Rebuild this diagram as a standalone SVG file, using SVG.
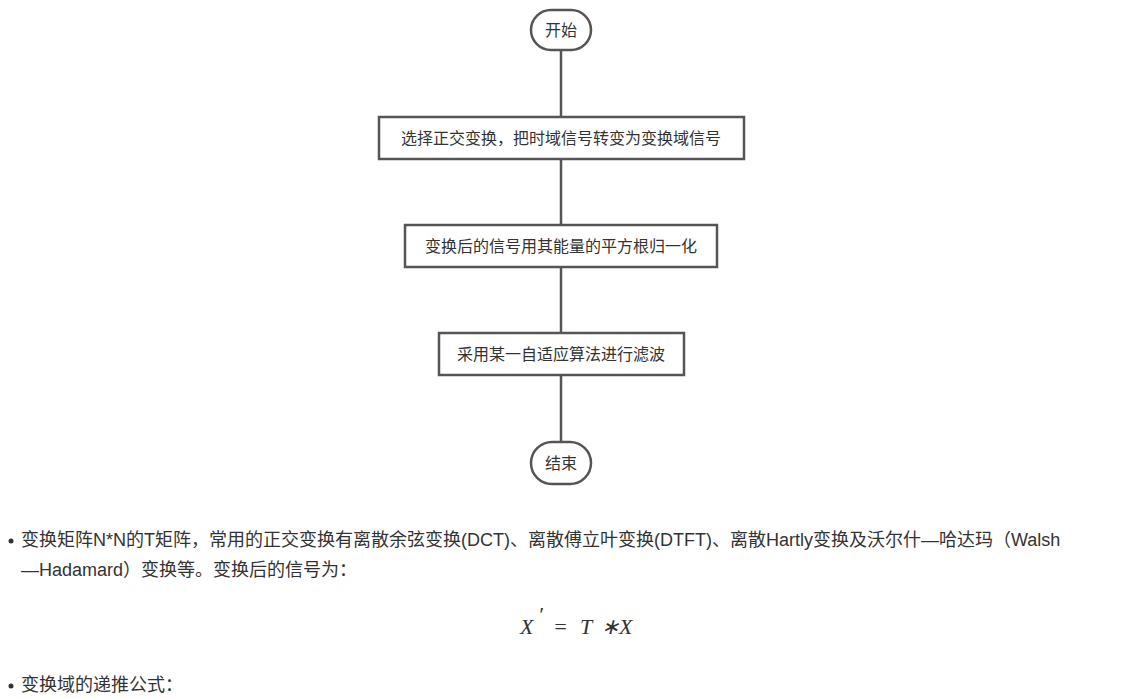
<svg xmlns="http://www.w3.org/2000/svg" width="1138" height="699" viewBox="0 0 1138 699">
<style>
.n{fill:#fff;stroke:#555;stroke-width:2.5}
.t{font-family:"Noto Sans CJK SC","Liberation Sans",sans-serif;font-size:16px;fill:#333;text-anchor:middle}
.p{font-family:"Liberation Sans","Noto Sans CJK SC",sans-serif;font-size:18px;fill:#333}
.m{font-family:"Liberation Serif",serif;font-size:22px;font-style:italic;fill:#333}
</style>
<rect width="1138" height="699" fill="#fff"/>
<g id="connectors" stroke="#555" stroke-width="2.5">
<line x1="561" y1="50" x2="561" y2="117"/>
<line x1="561" y1="159" x2="561" y2="225"/>
<line x1="561" y1="267" x2="561" y2="333"/>
<line x1="561" y1="375" x2="561" y2="442"/>
</g>
<g id="start"><rect class="n" x="531" y="10" width="60" height="40" rx="20"/><text class="t" x="561" y="36">开始</text></g>
<g id="step1"><rect class="n" x="379" y="117" width="365" height="42"/><text class="t" x="561" y="144">选择正交变换，把时域信号转变为变换域信号</text></g>
<g id="step2"><rect class="n" x="405" y="225" width="312" height="42"/><text class="t" x="561" y="252">变换后的信号用其能量的平方根归一化</text></g>
<g id="step3"><rect class="n" x="439" y="333" width="245" height="42"/><text class="t" x="561" y="360">采用某一自适应算法进行滤波</text></g>
<g id="end"><rect class="n" x="531" y="442" width="60" height="42" rx="21"/><text class="t" x="561" y="469">结束</text></g>
<circle cx="11" cy="541" r="2.5" fill="#333"/>
<text class="p" x="21" y="546">变换矩阵N*N的T矩阵，常用的正交变换有离散余弦变换(DCT)、离散傅立叶变换(DTFT)、离散Hartly变换及沃尔什—哈达玛（Walsh</text>
<text class="p" x="21" y="576">—Hadamard）变换等。变换后的信号为：</text>
<text class="m" x="520" y="634">X</text><text class="m" x="538" y="622" font-size="12">′</text>
<text class="m" x="553" y="634" font-style="normal">=</text>
<text class="m" x="580" y="634">T</text><text class="m" x="601" y="634" font-style="normal">∗</text><text class="m" x="619" y="634">X</text>
<circle cx="11" cy="686" r="2.5" fill="#333"/>
<text class="p" x="21" y="691">变换域的递推公式：</text>
</svg>
